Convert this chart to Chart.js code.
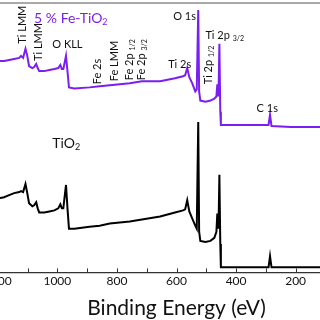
<!DOCTYPE html>
<html>
<head>
<meta charset="utf-8">
<script src="https://cdn.jsdelivr.net/npm/chart.js@4.4.1/dist/chart.umd.min.js"></script>
<style>
  html, body { margin: 0; padding: 0; background: #fff; overflow: hidden; }
  #wrap { position: absolute; left: -34px; top: 0; width: 421px; height: 321px; }
</style>
</head>
<body>
<div id="wrap"><canvas id="xpsChart"></canvas></div>
<script>
// Binding energy (eV) sampled along both survey spectra
const energy = [1196, 1179, 1162, 1145, 1128, 1122, 1115, 1107, 1101, 1095, 1084, 1078, 1071, 1066, 1061,
  1044, 1027, 1010, 997, 990, 985, 980, 971, 966, 961, 943, 892, 858, 824, 757, 716, 655, 605, 578, 571,
  564, 557, 547, 537, 532, 527, 524, 520, 503, 486, 473, 466, 463, 459, 456, 453, 451, 385, 291, 286,
  281, 216, 115, 0];

// intensity (a.u.), 5 % Fe-TiO2 (offset upwards)
const feTiO2 = [208, 208, 209, 210, 211, 213, 211, 220, 213, 203, 201, 202, 205, 201, 198,
  198, 199, 200, 201, 204, 200, 200, 213, 198, 182, 181, 182, 183, 184, 186, 188, 188, 191, 193, 194,
  201, 192, 186, 178, 180, 258, 178, 169, 168, 169, 171, 173, 185, 173, 225, 158, 145, 145, 145, 155,
  144, 143, 143, 143];

// intensity (a.u.), TiO2
const tiO2 = [73, 74, 76, 78, 79, 80, 79, 87, 78, 68, 65, 66, 69, 63, 59,
  59, 60, 61, 63, 67, 63, 63, 86, 63, 43, 43, 45, 46, 48, 50, 52, 55, 59, 61, 62,
  71, 60, 53, 46, 43, 148, 40, 31, 30, 31, 34, 40, 58, 43, 96, 28, 5, 5, 5, 16,
  5, 5, 5, 5];

// peak labels: [text, subscript, energy, intensity, rotated]
const peakLabels = [
  ['Ti LMM', '', 1118, 225, true],
  ['Ti LMM', '', 1064, 208, true],
  ['O KLL', '', 1017, 224, false],
  ['Fe 2s', '', 865, 185, true],
  ['Fe LMM', '', 807, 188, true],
  ['Fe 2p ', '1/2', 757, 189, true],
  ['Fe 2p ', '3/2', 716, 189, true],
  ['O 1s', '', 611, 252, false],
  ['Ti 2s', '', 628, 205, false],
  ['Ti 2p ', '1/2', 493, 185, true],
  ['Ti 2p ', '3/2', 503, 233, false],
  ['C 1s', '', 331, 161, false]
];

const purple = '#7a1ff0';
const FONT = 'Lato, "Open Sans", sans-serif';

const toPoints = (xs, ys) => xs.map((x, i) => ({ x: x, y: ys[i] }));

function drawRich(ctx, main, sub, size, color) {
  ctx.fillStyle = color;
  ctx.textBaseline = 'middle';
  ctx.textAlign = 'left';
  ctx.font = size + 'px ' + FONT;
  ctx.fillText(main, 0, 0);
  if (sub) {
    const w = ctx.measureText(main).width;
    ctx.font = Math.round(size * 0.62) + 'px ' + FONT;
    ctx.fillText(sub, w, size * 0.3);
  }
}

const decorations = {
  id: 'decorations',
  afterDatasetsDraw(chart) {
    const { ctx, chartArea, scales } = chart;
    const xs = scales.x, ys = scales.y;
    ctx.save();
    // top frame line
    ctx.strokeStyle = '#555';
    ctx.lineWidth = 1.2;
    ctx.beginPath();
    ctx.moveTo(chartArea.left, chartArea.top);
    ctx.lineTo(chartArea.right, chartArea.top);
    ctx.stroke();
    // inward tick marks on the energy axis
    ctx.strokeStyle = '#333';
    ctx.lineWidth = 1;
    xs.ticks.forEach(t => {
      const px = Math.round(xs.getPixelForValue(t.value)) + 0.5;
      ctx.beginPath();
      ctx.moveTo(px, chartArea.bottom);
      ctx.lineTo(px, chartArea.bottom - 4);
      ctx.stroke();
    });
    // peak labels
    peakLabels.forEach(([txt, sub, e, v, rot]) => {
      ctx.save();
      ctx.translate(xs.getPixelForValue(e), ys.getPixelForValue(v));
      if (rot) ctx.rotate(-Math.PI / 2);
      drawRich(ctx, txt, sub, 11, '#111');
      ctx.restore();
    });
    // sample names
    ctx.save();
    ctx.translate(xs.getPixelForValue(1078), ys.getPixelForValue(250));
    drawRich(ctx, '5 % Fe-TiO', '2', 14, purple);
    ctx.restore();
    ctx.save();
    ctx.translate(xs.getPixelForValue(1017), ys.getPixelForValue(127));
    drawRich(ctx, 'TiO', '2', 14, '#111');
    ctx.restore();
    ctx.restore();
  }
};

const ctx = document.getElementById('xpsChart').getContext('2d');
const xpsChart = new Chart(ctx, {
  type: 'line',
  data: {
    datasets: [{
      label: '5 % Fe-TiO2',
      data: toPoints(energy, feTiO2),
      borderColor: purple,
      borderWidth: 2,
      pointRadius: 0,
      tension: 0
    }, {
      label: 'TiO2',
      data: toPoints(energy, tiO2),
      borderColor: '#000',
      borderWidth: 2,
      pointRadius: 0,
      tension: 0
    }]
  },
  options: {
    responsive: true,
    maintainAspectRatio: false,
    animation: false,
    layout: { padding: { top: 3, left: 0, right: 0, bottom: 0 } },
    plugins: { legend: { display: false }, tooltip: { enabled: false } },
    scales: {
      x: {
        type: 'linear',
        reverse: true,
        min: -100,
        max: 1300,
        border: { display: true, color: '#333', width: 1.2 },
        grid: { display: true, drawOnChartArea: false, drawTicks: false },
        ticks: {
          stepSize: 100,
          padding: 2,
          maxRotation: 0,
          autoSkip: false,
          color: '#111',
          font: { family: FONT, size: 12 },
          callback: v => (v % 200 === 0 && v > 0) ? String(v) : ''
        },
        title: {
          display: true,
          text: 'Binding Energy (eV)',
          color: '#111',
          font: { family: FONT, size: 21 },
          padding: { top: 5, bottom: 0 }
        }
      },
      y: {
        display: false,
        min: 0,
        max: 265
      }
    }
  },
  plugins: [decorations]
});
</script>
</body>
</html>
